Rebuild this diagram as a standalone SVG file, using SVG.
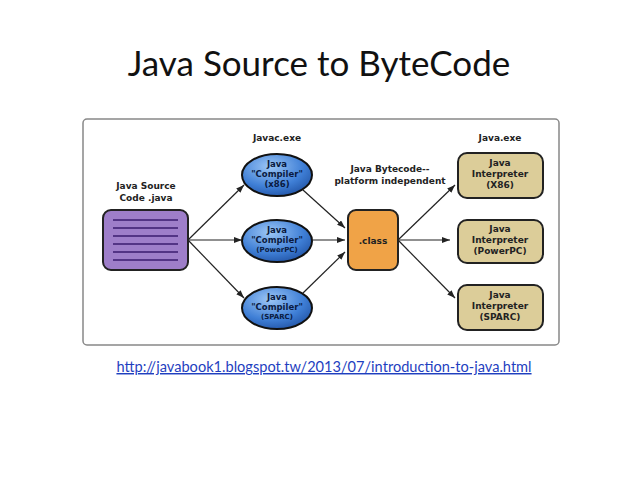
<svg xmlns="http://www.w3.org/2000/svg" width="638" height="479" viewBox="0 0 638 479">
<defs>
<radialGradient id="eg" cx="0.4" cy="0.3" r="0.8"><stop offset="0" stop-color="#9cc6f5"/><stop offset="0.6" stop-color="#3f7fd6"/><stop offset="1" stop-color="#1d4d9e"/></radialGradient>
<marker id="ah" markerWidth="8" markerHeight="6" refX="8" refY="3" orient="auto" markerUnits="userSpaceOnUse"><path d="M0,0L8,3L0,6z" fill="#222"/></marker>
</defs>
<style>
.lb{font-family:"DejaVu Sans",sans-serif;font-weight:bold;font-size:9px;fill:#222;text-anchor:middle}
.el{font-family:"DejaVu Sans",sans-serif;font-weight:bold;font-size:8.5px;fill:#0a1a40;text-anchor:middle}
.sm{font-size:7px}
.ib{fill:#dccd99;stroke:#222;stroke-width:2}
.c{stroke:#222;stroke-width:1.2;fill:none;marker-end:url(#ah)}
</style>
<rect width="638" height="479" fill="#fff"/>
<text x="319" y="76" text-anchor="middle" font-family="Lato, 'Open Sans', sans-serif" font-size="35" fill="#111">Java Source to ByteCode</text>
<rect x="83" y="119" width="476" height="226" rx="4" fill="#fff" stroke="#888" stroke-width="1.5"/>
<text class="lb" x="277" y="141">Javac.exe</text>
<text class="lb" x="146" y="189">Java Source</text>
<text class="lb" x="146" y="201">Code .java</text>
<text class="lb" x="390" y="172">Java Bytecode--</text>
<text class="lb" x="390" y="184">platform independent</text>
<text class="lb" x="500" y="141">Java.exe</text>
<g id="source"><rect x="103" y="210" width="85" height="60" rx="8" fill="#9e7ec9" stroke="#222" stroke-width="2"/>
<g stroke="#3a1d6e" stroke-width="1.5"><line x1="113" y1="220" x2="178" y2="220"/><line x1="113" y1="228" x2="178" y2="228"/><line x1="113" y1="236" x2="178" y2="236"/><line x1="113" y1="244" x2="178" y2="244"/><line x1="113" y1="252" x2="178" y2="252"/><line x1="113" y1="260" x2="178" y2="260"/></g></g>
<g id="c1"><ellipse cx="277" cy="175" rx="35" ry="21" fill="url(#eg)" stroke="#111" stroke-width="2"/><text class="el" x="277" y="167">Java</text><text class="el" x="277" y="177">"Compiler"</text><text class="el" x="277" y="187">(x86)</text></g>
<g id="c2"><ellipse cx="277" cy="241" rx="35" ry="21" fill="url(#eg)" stroke="#111" stroke-width="2"/><text class="el" x="277" y="233">Java</text><text class="el" x="277" y="243">"Compiler"</text><text class="el sm" x="277" y="252">(PowerPC)</text></g>
<g id="c3"><ellipse cx="277" cy="308" rx="35" ry="21" fill="url(#eg)" stroke="#111" stroke-width="2"/><text class="el" x="277" y="300">Java</text><text class="el" x="277" y="310">"Compiler"</text><text class="el sm" x="277" y="319">(SPARC)</text></g>
<g id="class"><rect x="348" y="210" width="50" height="60" rx="8" fill="#f0a347" stroke="#222" stroke-width="2"/><text class="lb" x="373" y="244">.class</text></g>
<g id="i1"><rect class="ib" x="458" y="153" width="85" height="45" rx="9"/><text class="lb" x="500" y="166">Java</text><text class="lb" x="500" y="177">Interpreter</text><text class="lb" x="500" y="188">(X86)</text></g>
<g id="i2"><rect class="ib" x="458" y="220" width="85" height="43" rx="9"/><text class="lb" x="500" y="232">Java</text><text class="lb" x="500" y="243">Interpreter</text><text class="lb" x="500" y="254">(PowerPC)</text></g>
<g id="i3"><rect class="ib" x="458" y="285" width="85" height="45" rx="9"/><text class="lb" x="500" y="298">Java</text><text class="lb" x="500" y="309">Interpreter</text><text class="lb" x="500" y="320">(SPARC)</text></g>
<g id="connectors">
<line class="c" x1="188" y1="240" x2="244" y2="185"/>
<line class="c" x1="188" y1="240" x2="242" y2="240"/>
<line class="c" x1="188" y1="240" x2="244" y2="298"/>
<line class="c" x1="303" y1="190" x2="345" y2="228"/>
<line class="c" x1="312" y1="240" x2="345" y2="240"/>
<line class="c" x1="303" y1="293" x2="345" y2="252"/>
<line class="c" x1="398" y1="240" x2="455" y2="185"/>
<line class="c" x1="398" y1="240" x2="450" y2="240"/>
<line class="c" x1="398" y1="240" x2="455" y2="298"/>
</g>
<text x="324" y="372" text-anchor="middle" font-family="Lato, 'Open Sans', sans-serif" font-size="14.6" fill="#1f3fbf" text-decoration="underline">http://javabook1.blogspot.tw/2013/07/introduction-to-java.html</text>
</svg>
